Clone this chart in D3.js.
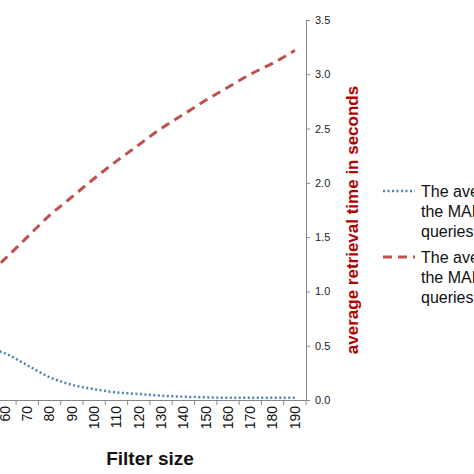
<!DOCTYPE html>
<html><head><meta charset="utf-8">
<script src="https://cdn.jsdelivr.net/npm/d3@7"></script>
<style>body{margin:0;background:#fff}</style></head>
<body><div id="chart"></div>
<script>
const sizes = [10,20,30,40,50,60,70,80,90,100,110,120,130,140,150,160,170,180,190];
const timeA = [0.62,0.6,0.57,0.53,0.48,0.43,0.32,0.21,0.14,0.10,0.07,0.055,0.04,0.03,0.025,0.02,0.02,0.02,0.02];
const timeB = [0.3,0.5,0.7,0.9,1.1,1.30,1.50,1.70,1.87,2.04,2.20,2.35,2.50,2.63,2.76,2.88,3.00,3.10,3.22];
const yTicks = [0,0.5,1,1.5,2,2.5,3,3.5];

const width = 474, height = 474;
const svg = d3.select("#chart").append("svg").attr("width", width).attr("height", height)
  .style("font-family", "Liberation Sans, Arial, sans-serif");

const axisX = 306, plotTop = 20, plotBottom = 400, band = 22.3;
const x = d3.scaleBand().domain(sizes).range([axisX - band * sizes.length, axisX]);
const y = d3.scaleLinear().domain([0, 3.5]).range([plotBottom, plotTop]);

// x axis
const gx = svg.append("g").attr("transform", `translate(0,${plotBottom})`)
  .call(d3.axisBottom(x).tickSize(0).tickPadding(4));
gx.select(".domain").attr("stroke", "#888");
gx.selectAll("text").attr("transform", "rotate(-90)").attr("text-anchor", "end")
  .attr("x", -6).attr("y", 0).attr("dy", "0.35em").attr("font-size", 14).attr("fill", "#111");
svg.append("g").selectAll("line").data(sizes).join("line")
  .attr("x1", d => x(d)).attr("x2", d => x(d)).attr("y1", plotBottom).attr("y2", plotBottom + 5).attr("stroke", "#888");
svg.append("line").attr("x1", axisX).attr("x2", axisX).attr("y1", plotBottom).attr("y2", plotBottom + 5).attr("stroke", "#888");

svg.append("text").attr("x", 150).attr("y", 465).attr("text-anchor", "middle")
  .attr("font-size", 19).attr("font-weight", "bold").attr("fill", "#111").text("Filter size");

// right axis
const gy = svg.append("g").attr("transform", `translate(${axisX},0)`)
  .call(d3.axisRight(y).tickValues(yTicks).tickSize(4).tickPadding(5));
gy.selectAll("path,line").attr("stroke", "#888");
gy.selectAll("text").attr("font-size", 11).attr("fill", "#222");

svg.append("text").attr("transform", `translate(358,${(plotTop + plotBottom) / 2 + 10}) rotate(-90)`)
  .attr("text-anchor", "middle").attr("font-size", 17).attr("font-weight", "bold")
  .attr("fill", "#b00000").text("average retrieval time  in seconds");

// lines
const cx = d => x(d) + x.bandwidth() / 2;
svg.append("path").datum(sizes.map((s, i) => [s, timeB[i]]))
  .attr("fill", "none").attr("stroke", "#c0504d").attr("stroke-width", 3).attr("stroke-dasharray", "9,6")
  .attr("d", d3.line().x(d => cx(d[0])).y(d => y(d[1])).curve(d3.curveMonotoneX));
svg.append("path").datum(sizes.map((s, i) => [s, timeA[i]]))
  .attr("fill", "none").attr("stroke", "#4f81bd").attr("stroke-width", 2.5).attr("stroke-dasharray", "2,2.5")
  .attr("d", d3.line().x(d => cx(d[0])).y(d => y(d[1])).curve(d3.curveMonotoneX));

// legend
const legend = [
  { dash: "2,2.5", color: "#4f81bd", w: 2.5, lines: ["The average", "the MAP", "queries"], y: 191 },
  { dash: "9,6", color: "#c0504d", w: 3, lines: ["The average", "the MAP", "queries"], y: 257 }
];
legend.forEach(l => {
  svg.append("line").attr("x1", 383).attr("x2", 415).attr("y1", l.y).attr("y2", l.y)
    .attr("stroke", l.color).attr("stroke-width", l.w).attr("stroke-dasharray", l.dash);
  l.lines.forEach((t, i) => svg.append("text").attr("x", 421).attr("y", l.y + 6 + i * 20)
    .attr("font-size", 16).attr("fill", "#111").text(t));
});
</script></body></html>
